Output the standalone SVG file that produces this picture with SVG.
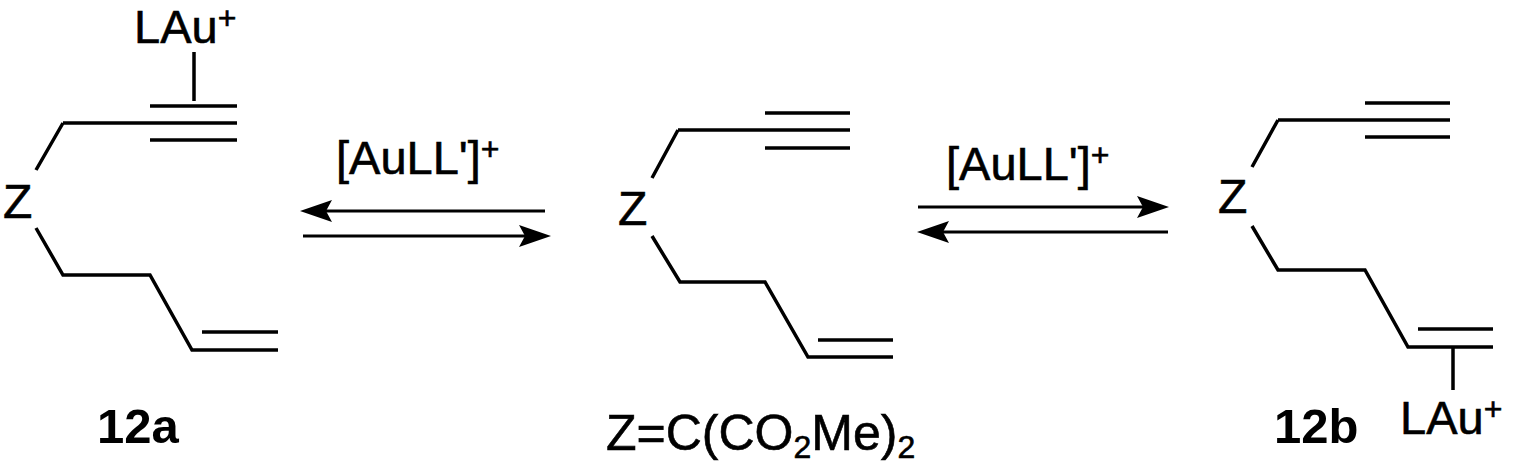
<svg xmlns="http://www.w3.org/2000/svg" width="1513" height="467" viewBox="0 0 1513 467">
<style>
.b{fill:none;stroke:#000;stroke-width:3.5}
.t{font-family:"Liberation Sans",Arial,sans-serif;font-size:47px;fill:#000;stroke:#000;stroke-width:0.6}
.c{font-size:50px}
.z{font-family:"Liberation Sans",Arial,sans-serif;font-size:48px;fill:#000;stroke:#000;stroke-width:0.6}
.n{font-family:"Liberation Sans",Arial,sans-serif;font-size:49px;font-weight:bold;fill:#000}
.s{font-size:32px}
</style>
<defs>
<path id="ah" d="M0,0 L-32,-11 L-26,0 L-32,11 Z" fill="#000"/>
</defs>
<rect width="1513" height="467" fill="#fff"/>
<g id="m12a">
<path class="b" d="M150,106H237M63,123H237M150,140H237M194,52V101M63,123L36,170M36,228L63,275H150L192,350H278M202,332H278"/>
<text class="z" x="3" y="218">Z</text>
<text class="t" x="134" y="43">LAu<tspan class="s" dy="-14">+</tspan></text>
<text class="n" x="97" y="443">12a</text>
</g>
<g id="m12">
<path class="b" d="M765,113H850M678,130H850M765,148H850M678,130L652,178M652,236L680,282H765L808,357H893M818,340H893"/>
<text class="z" x="618" y="225">Z</text>
<text class="t c" x="606" y="450">Z=C(CO<tspan class="s" dy="8">2</tspan><tspan dy="-8">Me)</tspan><tspan class="s" dy="8">2</tspan></text>
</g>
<g id="m12b">
<path class="b" d="M1365,103H1450M1278,120H1450M1365,137H1450M1278,120L1252,167M1252,226L1278,270H1365L1408,347H1493M1418,329H1493M1453,347V390"/>
<text class="z" x="1218" y="213">Z</text>
<text class="t" x="1400" y="434">LAu<tspan class="s" dy="-14">+</tspan></text>
<text class="n" x="1274" y="443">12b</text>
</g>
<g id="connectors">
<path class="b" style="stroke-width:3" d="M545,211H320M303,236H530M918,207H1148M1168,232H938"/>
<use href="#ah" transform="translate(300,211) rotate(180)"/>
<use href="#ah" transform="translate(551,236)"/>
<use href="#ah" transform="translate(1169,207)"/>
<use href="#ah" transform="translate(917,232) rotate(180)"/>
<text class="t" x="336" y="174">[AuLL']<tspan class="s" dy="-14">+</tspan></text>
<text class="t" x="946" y="180">[AuLL']<tspan class="s" dy="-14">+</tspan></text>
</g>
</svg>
